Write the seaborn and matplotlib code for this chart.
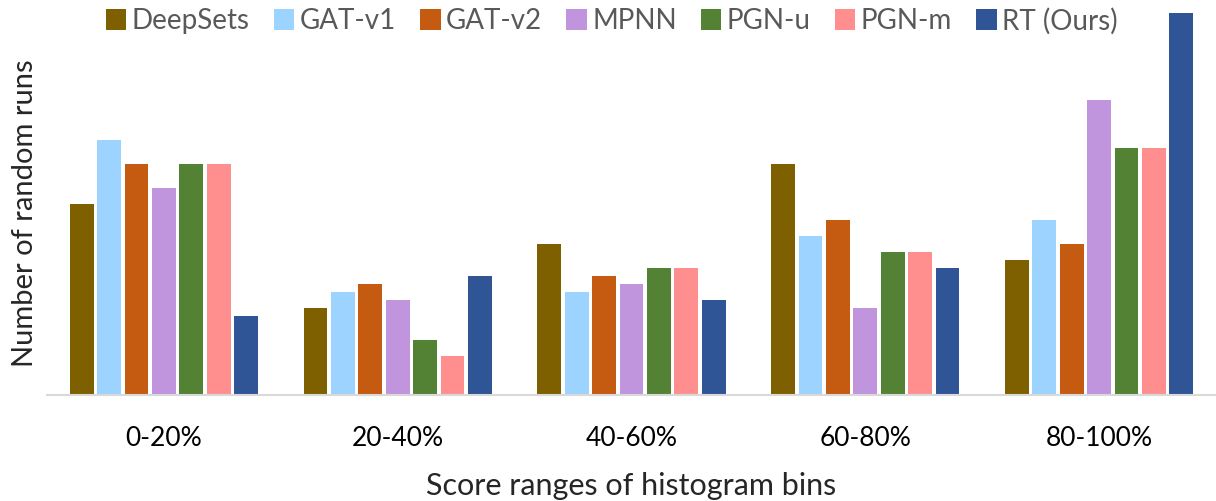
import pandas as pd
import matplotlib
matplotlib.use("Agg")
import matplotlib.pyplot as plt
import seaborn as sns

# score bins and models
bins = ["0-20%", "20-40%", "40-60%", "60-80%", "80-100%"]
models = ["DeepSets", "GAT-v1", "GAT-v2", "MPNN", "PGN-u", "PGN-m", "RT (Ours)"]

# number of random runs per bin
deepsets = [24, 11, 19, 29, 17]
gat_v1 = [32, 13, 13, 20, 22]
gat_v2 = [29, 14, 15, 22, 19]
mpnn = [26, 12, 14, 11, 37]
pgn_u = [29, 7, 16, 18, 31]
pgn_m = [29, 5, 16, 18, 31]
rt = [10, 15, 12, 16, 48]

colors = ["#7F6000", "#9DD3FF", "#C55A11", "#C095DE", "#548235", "#FF8F8F", "#2F5597"]

rows = []
for name, vals in zip(models, [deepsets, gat_v1, gat_v2, mpnn, pgn_u, pgn_m, rt]):
    for b, v in zip(bins, vals):
        rows.append({"bin": b, "model": name, "runs": v})
df = pd.DataFrame(rows)

sns.set_style("white")
plt.rcParams["font.family"] = ["Lato", "DejaVu Sans"]

fig = plt.figure(figsize=(12.16, 5.01), dpi=100)
ax = fig.add_axes([0.0387, 0.2106, 0.9613, 0.7894])

sns.barplot(data=df, x="bin", y="runs", hue="model", order=bins, hue_order=models,
            palette=colors, saturation=1, width=0.82, gap=0.13, linewidth=0, ax=ax)

ax.set_xlim(-0.5, 4.5)
ax.set_ylim(0, 49.6)
ax.set_yticks([])
for s in ["left", "right", "top"]:
    ax.spines[s].set_visible(False)
ax.spines["bottom"].set_color("#D9D9D9")
ax.spines["bottom"].set_linewidth(1.5)
ax.tick_params(axis="x", length=0, pad=22, labelsize=19, labelcolor="black")
ax.set_xlabel("Score ranges of histogram bins", fontsize=22, labelpad=15)
ax.set_ylabel("Number of random runs", fontsize=21)
ax.yaxis.set_label_coords(-0.008, 0.46)

handles, labels = ax.get_legend_handles_labels()
ax.get_legend().remove()
leg = fig.legend(handles, labels, loc="upper center", bbox_to_anchor=(0.503, 1.035),
                 ncol=7, frameon=False, fontsize=20, handlelength=0.75, handleheight=0.75,
                 handletextpad=0.2, columnspacing=0.85)
for t in leg.get_texts():
    t.set_color("#595959")

fig.savefig("out.png", dpi=100)
